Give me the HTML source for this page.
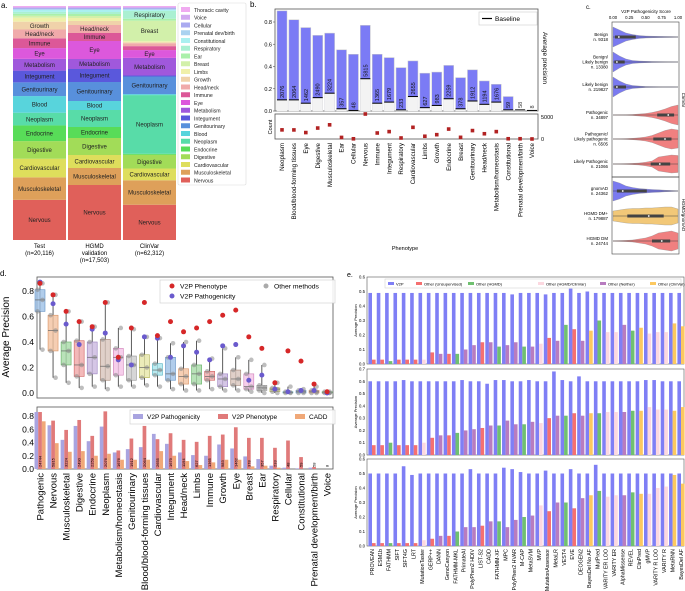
<!DOCTYPE html>
<html><head><meta charset="utf-8"><style>
html,body{margin:0;padding:0;background:#fff;}
svg{display:block;font-family:"Liberation Sans",sans-serif;}
</style></head><body>
<svg id="fig" width="685" height="591" viewBox="0 0 685 591" xmlns="http://www.w3.org/2000/svg"></svg>
<script>
// ---------- Panel a data ----------
const catsA = ["Nervous","Musculoskeletal","Cardiovascular","Digestive","Endocrine","Neoplasm","Blood","Genitourinary","Integument","Metabolism","Eye","Immune","Head/neck","Growth","Limbs","Breast","Ear","Respiratory","Constitutional","Prenatal dev/birth","Cellular","Voice","Thoracic cavity"];
const testA = [41,23,19,18,16,13,17,14,12,12,11,10,9,8,4,2,2,2,2,1,1,1,1];
const hgmdA = [55,17,13,17,11,17,9,19,13,10,18,8,8,4,3,2,2,2,2,1,1,1,1];
const clinA = [36,25,12,14,1,60,1,18,1,18,8,4,3,1,1,21,2,8,1,1,1,1,1];
const colsA = ["#e0605a","#dea05a","#dede5c","#a2dc58","#58dc58","#58dca8","#58d4dc","#5890dc","#5a58dc","#a058dc","#dc58dc","#dc5898","#f0aaaa","#f0d2aa","#f0f0aa","#d2f0aa","#aaf0aa","#aaf0d2","#aaf0f0","#aad2f0","#aaaaf0","#d2aaf0","#f0aaf0"];
// ---------- Panel b data ----------
const catsB = ["Neoplasm","Blood/blood-forming tissues","Eye","Digestive","Musculoskeletal","Ear","Cellular","Nervous","Immune","Integument","Respiratory","Cardiovascular","Limbs","Growth","Endocrine","Breast","Genitourinary","Head/neck","Metabolism/homeostasis","Constitutional","Prenatal development/birth","Voice"];
const apB = [0.90,0.82,0.75,0.68,0.70,0.55,0.51,0.77,0.51,0.48,0.39,0.45,0.34,0.35,0.41,0.30,0.37,0.27,0.24,0.13,0.01,0.005];
const baseB = [0.10,0.10,0.07,0.12,0.16,0.02,0.005,0.29,0.07,0.08,0.01,0.13,0.03,0.05,0.11,0.02,0.09,0.06,0.08,0.01,0.01,0.005];
const countB = [2076,2064,1462,2490,3224,357,48,5815,1365,1679,233,2655,627,983,2259,378,1912,1194,1676,59,58,8];
const yTicksB = [0.0,0.2,0.4,0.6,0.8];
// ---------- Panel c data ----------
const rowsC = [["Benign","n. 9318"],["Benign/","Likely benign","n. 13380"],["Likely benign","n. 219827"],["Pathogenic","n. 34897"],["Pathogenic/","Likely pathogenic","n. 6505"],["Likely Pathogenic","n. 21066"],["gnomAD","n. 24362"],["HGMD DM+","n. 179887"],["HGMD DM","n. 24744"]];
const densC = [
 [1,0.7,0.4,0.25,0.15,0.1,0.08,0.06,0.05,0.04,0.02],
 [1,0.6,0.3,0.15,0.1,0.07,0.05,0.04,0.03,0.02,0.01],
 [1,0.6,0.3,0.15,0.1,0.05,0.04,0.03,0.02,0.02,0.01],
 [0.01,0.02,0.03,0.05,0.1,0.15,0.25,0.4,0.6,0.85,1],
 [0.01,0.02,0.04,0.07,0.12,0.2,0.35,0.6,0.85,1,0.9],
 [0.01,0.02,0.04,0.06,0.1,0.18,0.3,0.7,0.8,0.9,0.85],
 [1,0.8,0.5,0.35,0.25,0.2,0.15,0.12,0.08,0.05,0.02],
 [0.5,0.6,0.7,0.75,0.75,0.8,0.8,0.85,0.9,0.9,0.7],
 [0.02,0.04,0.06,0.1,0.2,0.3,0.5,0.8,0.9,1,0.8]];
const q1C = [0.03,0.02,0.02,0.68,0.62,0.58,0.06,0.22,0.60];
const medC = [0.09,0.06,0.06,0.85,0.80,0.72,0.15,0.55,0.75];
const q3C = [0.35,0.18,0.20,0.94,0.90,0.88,0.52,0.78,0.88];
const kindC = ["b","b","b","r","r","r","b","y","r"];
const xTicksC = [0,0.25,0.5,0.75,1.0];
// ---------- Panel d data ----------
const catsD = ["Pathogenic","Nervous","Musculoskeletal","Digestive","Endocrine","Neoplasm","Metabolism/homeostasis","Genitourinary","Blood/blood-forming tissues","Cardiovascular","Integument","Head/neck","Limbs","Immune","Growth","Eye","Breast","Ear","Respiratory","Cellular","Constitutional","Prenatal development/birth","Voice"];
const q1D = [0.64,0.33,0.22,0.13,0.15,0.10,0.14,0.10,0.12,0.14,0.10,0.07,0.07,0.10,0.05,0.06,0.03,0.02,0.01,0.0,0.0,0.0,0.0];
const medD = [0.73,0.49,0.33,0.22,0.28,0.21,0.28,0.22,0.20,0.18,0.15,0.13,0.15,0.13,0.11,0.11,0.05,0.04,0.03,0.005,0.01,0.01,0.0];
const q3D = [0.81,0.61,0.40,0.41,0.40,0.42,0.35,0.29,0.30,0.23,0.28,0.19,0.22,0.17,0.15,0.18,0.15,0.06,0.04,0.01,0.02,0.02,0.01];
const loD = [0.34,0.12,0.08,0.04,0.05,0.03,0.05,0.05,0.06,0.05,0.03,0.02,0.02,0.03,0.02,0.02,0.01,0.0,0.0,0.0,0.0,0.0,0.0];
const hiD = [0.86,0.77,0.64,0.56,0.52,0.71,0.51,0.50,0.44,0.43,0.39,0.40,0.41,0.27,0.35,0.28,0.26,0.22,0.08,0.05,0.03,0.05,0.01];
const phenoD = [0.86,0.77,0.64,0.56,0.52,0.71,0.28,0.51,0.71,0.45,0.56,0.48,0.51,0.56,0.61,0.65,0.44,0.35,0.08,0.33,0.25,0.07,0.01];
const pathoD = [0.87,0.70,0.54,0.38,0.50,0.47,0.26,0.22,0.44,0.43,0.28,0.37,0.32,0.26,0.37,0.38,0.10,0.14,0.03,0.01,0.02,0.02,0.0];
const pathoBarD = [0.86,0.66,0.44,0.65,0.42,0.64,0.25,0.30,0.33,0.53,0.38,0.25,0.21,0.20,0.37,0.31,0.19,0.15,0.05,0.02,0.01,0.02,0.0];
const phenoBarD = [0.86,0.73,0.59,0.74,0.50,0.87,0.28,0.46,0.65,0.45,0.54,0.44,0.41,0.50,0.52,0.63,0.47,0.47,0.32,0.43,0.18,0.03,0.0];
const caddD = [0.72,0.39,0.26,0.27,0.20,0.23,0.14,0.14,0.14,0.27,0.20,0.12,0.06,0.10,0.14,0.14,0.04,0.05,0.02,0.0,0.0,0.0,0.0];
const countD = ["24744","5815","3224","2490","2259","2076","1676","1912","2064","2655","1679","1194","627","1365","983","1462","378","357","233","48","59","58","8"];
const yTicksD = [0.0,0.2,0.4,0.6,0.8];
// ---------- Panel e data ----------
const methodsE = ["PROVEAN","ESM1b","FATHMM","SIFT","SIFT4G","LRT","MutationTaster","GERP++","DANN","GenoCanyon","FATHMM-MKL","PrimateAI","PolyPhen2 HDIV","LIST-S2","CADD","FATHMM-XF","MPC","PolyPhen2 HVAR","M-CAP","MetaSVM","MVP","MutationAssessor","MetaLR","VEST4","EVE","DEOGEN2","BayesDel No AF","MutPred","VARITY ER LOO","VARITY ER","AlphaMissense","REVEL","ClinPred","gMVP","VARITY R LOO","VARITY R","MetaRNN","BayesDel AF"];
const catE = ["r","r","g","r","r","r","k","r","p","r","g","p","p","r","p","g","p","p","g","p","k","r","p","g","r","p","o","g","k","k","p","g","o","k","k","k","o","o"];
const v2pE1 = [0.49,0.49,0.49,0.49,0.49,0.49,0.49,0.49,0.49,0.49,0.49,0.49,0.49,0.49,0.49,0.49,0.49,0.48,0.49,0.49,0.49,0.48,0.49,0.49,0.52,0.49,0.50,0.49,0.49,0.49,0.49,0.49,0.49,0.49,0.49,0.49,0.49,0.49];
const othE1 = [0.03,0.03,0.02,0.03,0.03,0.03,0.03,0.08,0.07,0.07,0.07,0.10,0.13,0.15,0.15,0.12,0.13,0.15,0.12,0.12,0.14,0.18,0.16,0.27,0.24,0.16,0.23,0.30,0.22,0.22,0.27,0.23,0.25,0.21,0.22,0.22,0.28,0.26];
const v2pE2 = [0.60,0.60,0.60,0.60,0.61,0.60,0.60,0.60,0.60,0.60,0.60,0.61,0.60,0.60,0.58,0.61,0.61,0.60,0.60,0.61,0.60,0.60,0.68,0.61,0.60,0.64,0.60,0.60,0.60,0.60,0.60,0.60,0.60,0.61,0.61,0.60,0.60,0.60];
const othE2 = [0.08,0.08,0.10,0.08,0.08,0.08,0.10,0.14,0.16,0.16,0.18,0.20,0.21,0.22,0.24,0.24,0.28,0.25,0.25,0.27,0.26,0.30,0.32,0.32,0.34,0.32,0.34,0.34,0.35,0.35,0.35,0.36,0.36,0.39,0.37,0.37,0.36,0.39];
const v2pE3 = [0.50,0.50,0.50,0.50,0.55,0.49,0.50,0.50,0.50,0.50,0.50,0.50,0.53,0.50,0.50,0.50,0.54,0.53,0.51,0.50,0.50,0.52,0.50,0.50,0.53,0.50,0.50,0.56,0.50,0.50,0.50,0.50,0.50,0.50,0.50,0.50,0.50,0.50];
const othE3 = [0.02,0.02,0.02,0.02,0.02,0.02,0.04,0.05,0.07,0.07,0.10,0.13,0.13,0.14,0.17,0.17,0.13,0.18,0.20,0.21,0.28,0.24,0.30,0.30,0.26,0.33,0.35,0.38,0.34,0.35,0.35,0.37,0.36,0.36,0.40,0.41,0.49,0.43];
const legE = ["V2P","Other (Unsupervised)","Other (HGMD)","Other (HGMD/ClinVar)","Other (Neither)","Other (ClinVar)"];

const NS = "http://www.w3.org/2000/svg";
const svg = document.getElementById("fig");
function mk(tag, attrs, parent){const e=document.createElementNS(NS,tag);for(const k in attrs)e.setAttribute(k,attrs[k]);(parent||svg).appendChild(e);return e;}
function tx(str, attrs, parent){const e=mk("text",attrs,parent);e.textContent=str;return e;}
let el;

// ================= Panel a =================
el = tx("a.",{x:1,y:8,"font-size":8});


const colX = [13,68,123], colData=[testA,hgmdA,clinA], colW=53, aTop=6, aBot=240;
colData.forEach((arr,ci)=>{
  const tot = arr.reduce((s,v)=>s+v,0);
  let y = aBot;
  arr.forEach((v,i)=>{
    const h = v/tot*(aBot-aTop);
    y -= h;
    el = mk("rect",{x:colX[ci],y:y,width:colW,height:h,fill:colsA[i]});
    
    
    if(h>6.5){
      el = tx(catsA[i],{x:colX[ci]+colW/2,y:y+h/2+2.2,"font-size":6,"text-anchor":"middle",fill:"#222"});
      
      
    }
  });
});
const colLab = [["Test","(n=20,116)"],["HGMD","validation","(n=17,503)"],["ClinVar","(n=62,312)"]];
colLab.forEach((ls,ci)=>{ls.forEach((s,j)=>{
  el = tx(s,{x:colX[ci]+colW/2,y:248+j*7,"font-size":6,"text-anchor":"middle"});
  
  
});});
el = mk("rect",{x:178,y:3,width:68,height:182,fill:"#fff",stroke:"#ddd","stroke-width":0.6,rx:1.5});


for(let k=0;k<catsA.length;k++){
  const i = catsA.length-1-k, y = 10+k*7.75;
  el = mk("rect",{x:181,y:y-3,width:9,height:5,fill:colsA[i]});
  
  
  el = tx(catsA[i],{x:194,y:y+1.8,"font-size":5.2,fill:"#222"});
  
  
}

// ================= Panel b =================
el = tx("b.",{x:250,y:7,"font-size":8});


const bL=275,bR=538,bT=9,bB=111;
const byS = v=> bB - v*111.25;
const bx0=282, bdx=(532-282)/21;
const bx = i=> bx0+i*bdx;
el = mk("rect",{x:bL,y:bT,width:bR-bL,height:bB-bT,fill:"none",stroke:"#555","stroke-width":0.8});


catsB.forEach((c,i)=>{
  el = mk("rect",{x:bx(i)-5,y:byS(apB[i]),width:10,height:bB-byS(apB[i]),fill:"#7b7bf5",stroke:"#ccc","stroke-width":0.5});
  
  
  el = mk("rect",{x:bx(i)-5,y:byS(baseB[i]),width:10,height:bB-byS(baseB[i]),fill:"#f3f3f3"});
  
  
  el = mk("line",{x1:bx(i)-5,x2:bx(i)+5,y1:byS(baseB[i]),y2:byS(baseB[i]),stroke:"#000","stroke-width":1});
  
  
  el = tx(String(countB[i]),{x:0,y:0,"font-size":5.5,fill:apB[i]>0.05?"#111":"#333",transform:`translate(${bx(i)+2},${byS(baseB[i])-2}) rotate(-90)`});
  
  
  el = tx(c,{x:0,y:0,"font-size":6.2,"text-anchor":"end",transform:`translate(${bx(i)+2.2},${143}) rotate(-90)`});
  
  
});
yTicksB.forEach(t=>{
  el = mk("line",{x1:bL-2,x2:bL,y1:byS(t),y2:byS(t),stroke:"#555","stroke-width":0.6});
  
  
  el = tx(t.toFixed(1),{x:bL-3,y:byS(t)+2,"font-size":5.5,"text-anchor":"end"});
  
  
});
el = mk("rect",{x:479,y:12,width:58,height:13,fill:"#fff",stroke:"#ccc","stroke-width":0.6});


el = mk("line",{x1:482,x2:492,y1:18.5,y2:18.5,stroke:"#000","stroke-width":1.2});


el = tx("Baseline",{x:495,y:21,"font-size":6.5});


el = tx("Average precision",{x:0,y:0,"font-size":6.5,"text-anchor":"middle",transform:"translate(543,58) rotate(90)"});


// count axis
const cT=114,cB=139, cyS = v=> cB - v/5000*22;
el = mk("rect",{x:bL,y:cT,width:bR-bL,height:cB-cT,fill:"none",stroke:"#555","stroke-width":0.8});


countB.forEach((v,i)=>{
  el = mk("rect",{x:bx(i)-1.8,y:Math.max(cT,cyS(v))-1.8,width:3.6,height:3.6,fill:"#b22222"});
  
  
});
[0,5000].forEach(t=>{
  el = tx(String(t),{x:bR+3,y:cyS(t)+2,"font-size":5.5});
  
  
});
el = tx("Count",{x:0,y:0,"font-size":5.5,"text-anchor":"middle",transform:"translate(272,127) rotate(-90)"});


el = tx("Phenotype",{x:405,y:250,"font-size":5.5,"text-anchor":"middle"});



// ================= Panel c =================
el = tx("c.",{x:586,y:9,"font-size":6});


const cL=612,cR=679, cxS = v=> 613+v*65;
el = tx("V2P Pathogenicity Score",{x:646,y:13,"font-size":4.5,"text-anchor":"middle"});


xTicksC.forEach(t=>{
  el = tx(t.toFixed(2),{x:cxS(t),y:19,"font-size":4.3,"text-anchor":"middle"});
  
  
});
el = mk("rect",{x:cL,y:22,width:cR-cL,height:155,fill:"none",stroke:"#444","stroke-width":0.6});


el = mk("rect",{x:cL,y:177,width:cR-cL,height:77,fill:"none",stroke:"#444","stroke-width":0.6});


const rowY=[37,62,87,115,139,164,191,216,241];
const kc={b:"#7a7af0",r:"#f08080",y:"#f2c878"};
densC.forEach((d,r)=>{
  const y0=rowY[r], hh=10;
  let top="", bot="";
  d.forEach((v,k)=>{const x=cxS(k/10); top+=(k?"L":"M")+x+","+(y0-v*hh);});
  for(let k=d.length-1;k>=0;k--){const x=cxS(k/10); bot+="L"+x+","+(y0+d[k]*hh);}
  el = mk("path",{d:top+bot+"Z",fill:kc[kindC[r]],stroke:"#888","stroke-width":0.3});
  
  
  el = mk("line",{x1:cxS(0),x2:cxS(1),y1:y0,y2:y0,stroke:"#444","stroke-width":0.5});
  
  
  el = mk("rect",{x:cxS(q1C[r]),y:y0-1.5,width:cxS(q3C[r])-cxS(q1C[r]),height:3,fill:"#444"});
  
  
  el = mk("circle",{cx:cxS(medC[r]),cy:y0,r:0.9,fill:"#fff"});
  
  
  const ls=rowsC[r];
  ls.forEach((s,j)=>{
    el = tx(s,{x:608,y:y0-(ls.length-1)*2.6+j*5.2+1.5,"font-size":4.4,"text-anchor":"end"});
    
    
  });
});
el = tx("ClinVar",{x:0,y:0,"font-size":4.5,"text-anchor":"middle",transform:"translate(682,100) rotate(90)"});


el = tx("HGMD/gnomAD",{x:0,y:0,"font-size":4.5,"text-anchor":"middle",transform:"translate(682,215) rotate(90)"});



// ================= Panel d =================
el = tx("d.",{x:0,y:276,"font-size":8});


const dL=37,dR=333, dx = i=> 40+i*13.05;
const duy = v=> 393 - v*127.5;
const dly = v=> 469 - v*66.25;
el = mk("rect",{x:dL,y:277,width:dR-dL,height:121,fill:"none",stroke:"#555","stroke-width":0.8});


const pal=["#9ec1e6","#f2c2a0","#a8dba8","#f0a8a8","#cbb8e0","#d8c4bc","#f4c2e6","#cccccc","#e6e6a8","#a8e6ee"];
const palS=["#5f8fc4","#d99060","#5faf5f","#cf6060","#9a80c0","#a08070","#d080b8","#909090","#b0b050","#50b0c0"];
catsD.forEach((c,i)=>{
  const x=dx(i);
  el = mk("line",{x1:x,x2:x,y1:duy(loD[i]),y2:duy(hiD[i]),stroke:"#333","stroke-width":0.8});
  
  
  el = mk("rect",{x:x-5,y:duy(q3D[i]),width:10,height:Math.max(0.5,duy(q1D[i])-duy(q3D[i])),fill:pal[i%10],stroke:palS[i%10],"stroke-width":0.6,"fill-opacity":0.8});
  
  
  el = mk("line",{x1:x-5,x2:x+5,y1:duy(medD[i]),y2:duy(medD[i]),stroke:"#666","stroke-width":0.7});
  
  
  [loD[i],q1D[i],medD[i],q3D[i],hiD[i]].forEach((v,k)=>{
    el = mk("circle",{cx:x+(k%2?-2.5:2.5),cy:duy(v),r:2.3,fill:"#888","fill-opacity":0.55});
    
    
  });
  el = mk("circle",{cx:x,cy:duy(pathoD[i]),r:2.5,fill:"#6a5acd"});
  
  
  el = mk("circle",{cx:x,cy:duy(phenoD[i]),r:2.5,fill:"#d62728"});
  
  
});
yTicksD.forEach(t=>{
  el = tx(t.toFixed(1),{x:34,y:duy(t)+3,"font-size":8.5,"text-anchor":"end"});
  
  
  el = tx(t.toFixed(1),{x:34,y:dly(t)+3,"font-size":8.5,"text-anchor":"end"});
  
  
});
el = tx("Average Precision",{x:0,y:0,"font-size":10,"text-anchor":"middle",transform:"translate(9,337) rotate(-90)"});


el = mk("rect",{x:160,y:280,width:175,height:23,fill:"#fff","fill-opacity":0.85,stroke:"#ccc","stroke-width":0.6});


[["#d62728","V2P Phenotype",172,286],["#6a5acd","V2P Pathogenicity",172,296],["#aaaaaa","Other methods",266,286]].forEach(l=>{
  el = mk("circle",{cx:l[2],cy:l[3],r:2.5,fill:l[0]});
  
  
  el = tx(l[1],{x:l[2]+8,y:l[3]+2.5,"font-size":6.8});
  
  
});
el = mk("rect",{x:dL,y:407,width:dR-dL,height:62,fill:"none",stroke:"#555","stroke-width":0.8});


catsD.forEach((c,i)=>{
  const x=dx(i);
  [[pathoBarD,"#a9a4e0",-5.5],[phenoBarD,"#e07a7a",-1.8],[caddD,"#f0a878",1.9]].forEach(s=>{
    el = mk("rect",{x:x+s[2],y:dly(s[0][i]),width:3.7,height:469-dly(s[0][i]),fill:s[1]});
    
    
  });
  el = tx(countD[i],{x:0,y:0,"font-size":4,transform:`translate(${x+1.5},467) rotate(-90)`});
  
  
  el = tx(c,{x:0,y:0,"font-size":9.5,"text-anchor":"end",transform:`translate(${x+3.5},473) rotate(-90)`});
  
  
});
el = mk("rect",{x:130,y:410,width:205,height:14,fill:"#fff","fill-opacity":0.85,stroke:"#ccc","stroke-width":0.6});


[["#a9a4e0","V2P Pathogenicity",133],["#e07a7a","V2P Phenotype",218],["#f0a878","CADD",295]].forEach(l=>{
  el = mk("rect",{x:l[2],y:414,width:10,height:5,fill:l[0]});
  
  
  el = tx(l[1],{x:l[2]+14,y:419,"font-size":6.5});
  
  
});

// ================= Panel e =================
el = tx("e.",{x:347,y:277,"font-size":7});


const eL=367,eR=685, ex=i=>372+i*(681-372)/37;
const ecol={r:"#f57070",g:"#70c070",k:"#fcd8e0",p:"#b87cc0",o:"#fcc860"};
const panelsE=[{top:277,bot:364,max:0.6,v:v2pE1,o:othE1,ticks:[0,0.1,0.2,0.3,0.4,0.5,0.6]},
               {top:369,bot:455,max:0.7,v:v2pE2,o:othE2,ticks:[0,0.1,0.2,0.3,0.4,0.5,0.6,0.7]},
               {top:459,bot:546,max:0.6,v:v2pE3,o:othE3,ticks:[0,0.1,0.2,0.3,0.4,0.5,0.6]}];
panelsE.forEach((p,pi)=>{
  const ys=v=>p.bot-v/p.max*(p.bot-p.top);
  el = mk("rect",{x:eL,y:p.top,width:eR-eL-1,height:p.bot-p.top,fill:"none",stroke:"#555","stroke-width":0.6});
  
  
  methodsE.forEach((m,i)=>{
    el = mk("rect",{x:ex(i)-3.6,y:ys(p.v[i]),width:3.6,height:p.bot-ys(p.v[i]),fill:"#7f7ff5"});
    
    
    el = mk("rect",{x:ex(i),y:ys(p.o[i]),width:3.6,height:p.bot-ys(p.o[i]),fill:ecol[catE[i]]});
    
    
  });
  p.ticks.forEach(t=>{
    el = tx(t.toFixed(1),{x:eL-2,y:ys(t)+1.5,"font-size":4.3,"text-anchor":"end"});
    
    
  });
  el = tx("Average Precision",{x:0,y:0,"font-size":4,"text-anchor":"middle",transform:`translate(357,${(p.top+p.bot)/2}) rotate(-90)`});
  
  
});
methodsE.forEach((m,i)=>{
  el = tx(m,{x:0,y:0,"font-size":5.3,"text-anchor":"end",transform:`translate(${ex(i)+1.8},549) rotate(-90)`});
  
  
});
el = mk("rect",{x:385,y:279,width:296,height:9,fill:"#fff",stroke:"#ccc","stroke-width":0.5});


const legX=[388,416,468,538,600,650], legC=["#7f7ff5","#f57070","#70c070","#fcd8e0","#b87cc0","#fcc860"];
legE.forEach((l,i)=>{
  el = mk("rect",{x:legX[i],y:282,width:6,height:3,fill:legC[i]});
  
  
  el = tx(l,{x:legX[i]+8,y:285.3,"font-size":4});
  
  
});
</script>
</body></html>
